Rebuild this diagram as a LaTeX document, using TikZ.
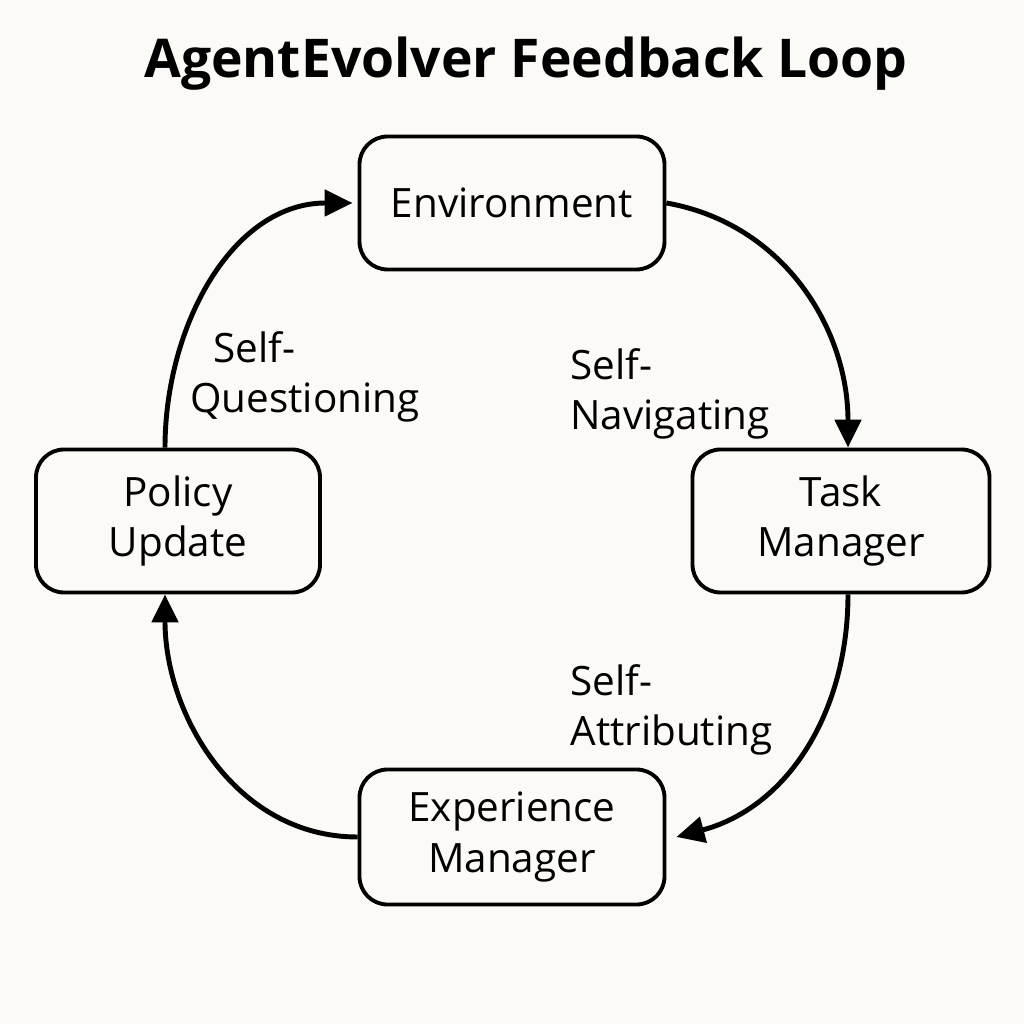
\documentclass[tikz,border=0pt]{standalone}
\usepackage{fontspec}
\setmainfont{Open Sans}
\usepackage{xcolor}
\usetikzlibrary{shapes,arrows.meta,positioning,calc}
\definecolor{paper}{HTML}{FBFAF6}

\begin{document}
\begin{tikzpicture}[
    stage/.style={draw, line width=1.1pt, rounded corners=0.28cm, align=center,
        font=\fontsize{11.5}{14.5}\selectfont},
    flow/.style={line width=1.4pt, -{Triangle[length=0.28cm,width=0.26cm]}},
    tag/.style={align=left, font=\fontsize{11.5}{14.2}\selectfont}
]
    \fill[paper] (0,0) rectangle (10.24,10.24);
    \useasboundingbox (0,0) rectangle (10.24,10.24);

    \node (title) at (5.26,9.60) {\fontsize{15.2}{18}\selectfont\bfseries AgentEvolver Feedback Loop};

    \node (env) [stage, minimum width=3.05cm, minimum height=1.33cm] at (5.12,8.21) {Environment};
    \node (task) [stage, minimum width=2.97cm, minimum height=1.43cm] at (8.41,5.03) {Task\\Manager};
    \node (policy) [stage, minimum width=2.84cm, minimum height=1.43cm] at (1.78,5.03) {Policy\\Update};
    \node (exp) [stage, minimum width=3.05cm, minimum height=1.35cm] at (5.12,1.87) {Experience\\Manager};

    \node (nav) [tag, anchor=west] at (5.58,6.30) {Self-\\Navigating};
    \node (att) [tag, anchor=west] at (5.58,3.14) {Self-\\Attributing};
    \node (que) [tag, anchor=west] at (1.78,6.47) {\hspace{0.23cm}Self-\\Questioning};

    \draw[flow] (env.east) to[out=-10,in=90] ([xshift=0.07cm]task.north);
    \draw[flow] ([xshift=0.07cm]task.south) to[out=-90,in=15] ([xshift=0.1cm]exp.east);
    \draw[flow] (exp.west) to[out=180,in=-90] ([xshift=-0.13cm]policy.south);
    \draw[flow] ([xshift=-0.13cm]policy.north) to[out=90,in=180] ([xshift=-0.05cm]env.west);
\end{tikzpicture}
\end{document}
